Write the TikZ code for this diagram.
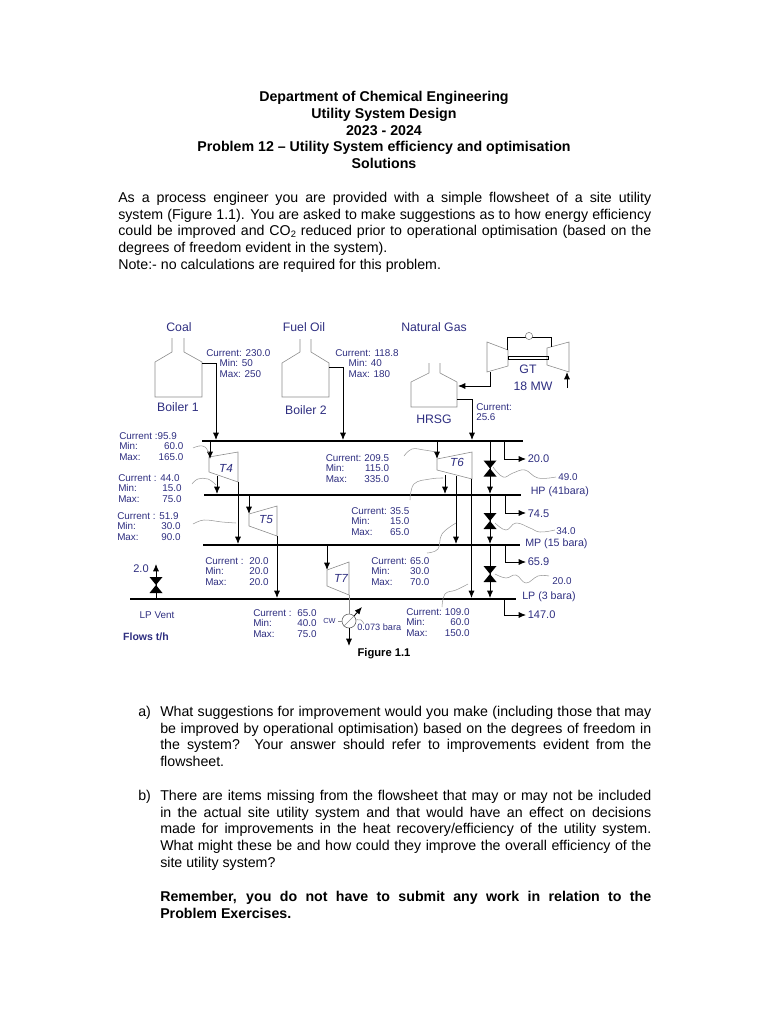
\documentclass[tikz,border=0pt]{standalone}
\usepackage{fontspec}
\setmainfont{Liberation Sans}
\usetikzlibrary{arrows.meta}
\definecolor{labelBlue}{HTML}{2E2E80}
\newcommand{\flowdata}[4]{\hbox to #1{#2\hfil}\\\hbox to #1{Min:\hfill #3}\\\hbox to #1{Max:\hfill #4}}
\begin{document}
\begin{tikzpicture}[
  x=0.75pt, y=-0.75pt,
  font=\fontsize{10.65}{12.5}\selectfont,
  title/.style={font=\fontsize{10.65}{12.5}\selectfont\bfseries, align=center, anchor=center, inner sep=0pt},
  bodytext/.style={text width=#1, align=justify, anchor=north west, inner sep=0pt},
  plainlabel/.style={text=labelBlue, inner sep=0pt, font=\fontsize{9.2}{10}\selectfont},
  datalabel/.style={text=labelBlue, inner sep=0pt, align=left, anchor=north west,
    font=\fontsize{7.4}{8.1}\selectfont},
  outlabel/.style={text=labelBlue, inner sep=0pt, anchor=west, font=\fontsize{8.3}{10}\selectfont},
  turblabel/.style={text=labelBlue, inner sep=0pt, font=\fontsize{8.8}{10}\selectfont\itshape},
  vessel/.style={draw=black!45, line width=0.45pt},
  leader/.style={draw=black!40, line width=0.4pt},
  thickbus/.style={line width=1.5pt},
  thinbus/.style={line width=0.8pt},
  flow/.style={-{Latex[length=5.5pt,width=4.6pt]}, line width=0.65pt},
  valve/.pic={\fill (-6.5,-8) -- (6.5,-8) -- (-6.5,8) -- (6.5,8) -- cycle;}
]
  \useasboundingbox (0,0) rectangle (768,1024);

  \node[title] (heading) at (384,130)
    {Department of Chemical Engineering\\Utility System Design\\2023 - 2024\\%
     Problem 12 – Utility System efficiency and optimisation\\Solutions};
  \node[bodytext=399.75pt] (intro) at (118,192)
    {As a process engineer you are provided with a simple flowsheet of a site utility\linebreak
     system (Figure 1.1). You are asked to make suggestions as to how energy efficiency\linebreak
     could be improved and CO{\fontsize{7}{8}\selectfont\raisebox{-1pt}{2}} reduced prior to operational optimisation (based on the\linebreak
     degrees of freedom evident in the system).\\
     Note:- no calculations are required for this problem.};

  % headers
  \foreach \busname/\xa/\xb/\ypos/\buswidth in {busHigh/202/523/441/thickbus, busHp/204/521/495/thinbus,
      busMp/203/520/545/thinbus, busLp/130/516/599/thickbus} {
    \coordinate (\busname W) at (\xa,\ypos);
    \coordinate (\busname E) at (\xb,\ypos);
    \draw[\buswidth] (\busname W) -- (\busname E);
  }

  % boilers and gas turbine
  \draw[vessel] (172,338) -- (172,352) -- (155,362) -- (155,397) -- (202,397) -- (202,362) -- (184,352) -- (184,338);
  \draw[vessel] (300,339) -- (300,352) -- (282,363) -- (282,397) -- (329,397) -- (329,363) -- (311,352) -- (311,339);
  \draw[vessel] (429,363) -- (429,373) -- (411,382) -- (411,407) -- (457,407) -- (457,382) -- (440,373) -- (440,363);
  \draw[vessel] (487,342) -- (508,350) -- (508,366) -- (487,372) -- cycle;
  \draw[vessel] (569,342) -- (547,348) -- (547,365) -- (569,372) -- cycle;
  \draw[line width=0.6pt] (508,356.5) rectangle (548,359.5);
  \draw[line width=0.65pt] (507,350) -- (507,337) -- (551,337) -- (551,347);
  \node[circle, draw=black!50, fill=white, line width=0.4pt, minimum size=5.4pt, inner sep=0pt] (gtCoupling) at (529,336) {};

  \node[plainlabel] (coalLabel) at (179,327) {Coal};
  \node[plainlabel] (oilLabel) at (304,327) {Fuel Oil};
  \node[plainlabel] (gasLabel) at (434,327) {Natural Gas};
  \node[plainlabel] (boilerOne) at (178,407) {Boiler 1};
  \node[plainlabel] (boilerTwo) at (306,410) {Boiler 2};
  \node[plainlabel] (hrsg) at (434,419) {HRSG};
  \node[plainlabel] (gtName) at (528,369) {GT};
  \node[plainlabel] (gtPower) at (533,386) {18 MW};

  % turbines
  \draw[vessel] (209,457) -- (238,452) -- (238,482) -- (209,472) -- cycle;
  \draw[vessel] (249,514) -- (277,506) -- (277,536) -- (249,526) -- cycle;
  \draw[vessel] (327,570) -- (349,562) -- (349,595) -- (327,586) -- cycle;
  \draw[vessel] (437,459) -- (472,452) -- (472,479) -- (437,470) -- cycle;
  \node[turblabel] (tFour) at (226,468) {T4};
  \node[turblabel] (tFive) at (266,520) {T5};
  \node[turblabel] (tSeven) at (341,578) {T7};
  \node[turblabel] (tSix) at (457,462) {T6};

  % condenser
  \node[circle, draw=black!60, line width=0.45pt, minimum size=10.5pt, inner sep=0pt] (condenser) at (349,621) {};
  \draw[vessel] (349,595) -- (condenser);
  \draw[vessel] (condenser.south west) -- (condenser.north east);
  \draw[vessel] (338,621) -- (condenser.west);
  \coordinate (condenserOut) at (349,646);
  \coordinate (condenserVac) at (362,607);
  \draw[flow] (condenser.south) -- (condenserOut);
  \draw[flow] (condenser.north east) -- (condenserVac);
  \node[outlabel, font=\fontsize{5.5}{7}\selectfont] (cwLabel) at (323,621) {CW};

  % flows
  \foreach \fa/\ya/\fb/\yb in {216/363/216/440, 343/367/343/440} {
    \draw[flow] (\fa-14,\ya) -- (\fb,\ya) -- (\fb,\yb);
  }
  \draw[flow] (457,399) -| (472,440);
  \draw[flow] (490,372) |- (458,386);
  \draw[flow] (567,388) -- (567,372);
  \foreach \xa/\ya/\yb in {210/441/459, 217/476/494, 238/482/544, 249/495/514, 277/536/598, 327/545/570,
      437/441/459, 445/475/494, 456/476/544, 471.5/479/598, 490/441/494, 490/495/544, 490/545/598} {
    \draw[flow] (\xa,\ya) -- (\xa,\yb);
  }
  \foreach \xa/\ya/\yb/\valname/\outval/\ylab in {504/441/459/exportHigh/20.0/459, 505/495/513/exportHp/74.5/514,
      505/545/562/exportMp/65.9/562, 504/599/615/exportLp/147.0/615} {
    \coordinate (\valname) at (526,\yb);
    \draw[flow] (\xa,\ya) |- (\valname);
    \node[outlabel] (\valname Label) at (527.5,\ylab) {\outval};
  }

  % valves
  \pic (valveHp) at (490,468.5) {valve};
  \pic (valveMp) at (490,521) {valve};
  \pic (valveLp) at (490,574) {valve};
  \pic (valveVent) at (156,585) {valve};
  \coordinate (ventTip) at (156,564);
  \draw[flow] (156,599) -- (ventTip);
  \node[outlabel, anchor=center] (ventFlow) at (141,569) {2.0};
  \node[datalabel, anchor=center, font=\fontsize{7.4}{8}\selectfont] (ventLabel) at (157,615) {LP Vent};
  \node[datalabel, anchor=center, font=\fontsize{7.9}{8}\selectfont\bfseries] (flowsLabel) at (146,637) {Flows t/h};
  \node[anchor=center, inner sep=0pt, font=\fontsize{8.4}{9}\selectfont\bfseries] (figureLabel) at (384,654) {Figure 1.1};

  % header names
  \node[outlabel, font=\fontsize{8}{9}\selectfont] (hpName) at (530.5,492) {HP (41bara)};
  \node[outlabel, font=\fontsize{8}{9}\selectfont] (mpName) at (525,544) {MP (15 bara)};
  \node[outlabel, font=\fontsize{8}{9}\selectfont] (lpName) at (522,597) {LP (3 bara)};
  \node[outlabel, anchor=center, font=\fontsize{7.4}{9}\selectfont] (hpLetdown) at (568,477) {49.0};
  \node[outlabel, anchor=center, font=\fontsize{7.4}{9}\selectfont] (mpLetdown) at (566,531) {34.0};
  \node[outlabel, anchor=center, font=\fontsize{7.4}{9}\selectfont] (lpLetdown) at (562,581) {20.0};
  \node[outlabel, font=\fontsize{6.9}{8}\selectfont] (vacLabel) at (357,627) {0.073 bara};

  % flow limits
  \node[datalabel] (boilerOneData) at (206,349) {Current: 230.0\\\hspace{10pt}Min: 50\\\hspace{10pt}Max: 250};
  \node[datalabel] (boilerTwoData) at (335,349) {Current: 118.8\\\hspace{10pt}Min: 40\\\hspace{10pt}Max: 180};
  \node[datalabel] (hrsgData) at (476,403) {Current:\\25.6};
  \node[datalabel] (dataFour) at (119,432) {\flowdata{48pt}{Current :95.9}{60.0}{165.0}};
  \node[datalabel] (dataFourB) at (118,474) {\flowdata{47.5pt}{Current : 44.0}{15.0}{75.0}};
  \node[datalabel] (dataFive) at (117,512) {\flowdata{47.5pt}{Current : 51.9}{30.0}{90.0}};
  \node[datalabel] (dataFiveB) at (205,557) {\flowdata{47.5pt}{Current :\hfill 20.0}{20.0}{20.0}};
  \node[datalabel] (dataCond) at (253,609) {\flowdata{47.5pt}{Current :\hfill 65.0}{40.0}{75.0}};
  \node[datalabel] (dataSix) at (325.5,454) {\flowdata{47.5pt}{Current:\hfill 209.5}{115.0}{335.0}};
  \node[datalabel] (dataSixB) at (351,507) {\flowdata{43.5pt}{Current:\hfill 35.5}{15.0}{65.0}};
  \node[datalabel] (dataSeven) at (371,557) {\flowdata{43.5pt}{Current:\hfill 65.0}{30.0}{70.0}};
  \node[datalabel] (dataLp) at (406,608) {\flowdata{47.5pt}{Current:\hfill 109.0}{60.0}{150.0}};

  % leader lines
  \draw[leader] plot[smooth, tension=0.7] coordinates {(193,448) (199,446) (205,447) (209,453)};
  \draw[leader] plot[smooth, tension=0.7] coordinates {(192,484) (198,479) (208,479) (216,485)};
  \draw[leader] plot[smooth, tension=0.6] coordinates {(193,524) (204,520) (222,522) (236,523)};
  \draw[leader] plot[smooth, tension=0.7] coordinates {(404,456) (412,449) (424,450) (436,452)};
  \draw[leader] plot[smooth, tension=0.7] coordinates {(410,500) (414,484) (430,479) (443,478)};
  \draw[leader] plot[smooth, tension=0.7] coordinates {(427,553) (438,549) (442,534) (456,523)};
  \draw[leader] plot[smooth, tension=0.7] coordinates {(442,607) (445,594) (456,590) (468,584)};
  \draw[leader] plot[smooth, tension=0.7] coordinates {(493,467) (503,477) (513,473) (525,470) (538,478) (556,477)};
  \draw[leader] plot[smooth, tension=0.7] coordinates {(495,523) (506,530) (516,523) (530,528) (540,532) (555,530)};
  \draw[leader] plot[smooth, tension=0.7] coordinates {(495,574) (506,578) (516,575) (526,583) (538,576) (549,576)};
  \draw[leader] plot[smooth, tension=0.7] coordinates {(355,620) (361,620) (364,624)};

  % questions
  \node[anchor=north west, inner sep=0pt] (markA) at (138,706) {a)};
  \node[bodytext=368.25pt] (questionA) at (160,706)
    {What suggestions for improvement would you make (including those that may\linebreak
     be improved by operational optimisation) based on the degrees of freedom in\linebreak
     the system? Your answer should refer to improvements evident from the\linebreak
     flowsheet.};
  \node[anchor=north west, inner sep=0pt] (markB) at (138,790) {b)};
  \node[bodytext=368.25pt] (questionB) at (160,790)
    {There are items missing from the flowsheet that may or may not be included\linebreak
     in the actual site utility system and that would have an effect on decisions\linebreak
     made for improvements in the heat recovery/efficiency of the utility system.\linebreak
     What might these be and how could they improve the overall efficiency of the\linebreak
     site utility system?};
  \node[bodytext=368.25pt, font=\fontsize{10.65}{12.5}\selectfont\bfseries] (reminder) at (160,891)
    {Remember, you do not have to submit any work in relation to the\linebreak
     Problem Exercises.};
\end{tikzpicture}
\end{document}
